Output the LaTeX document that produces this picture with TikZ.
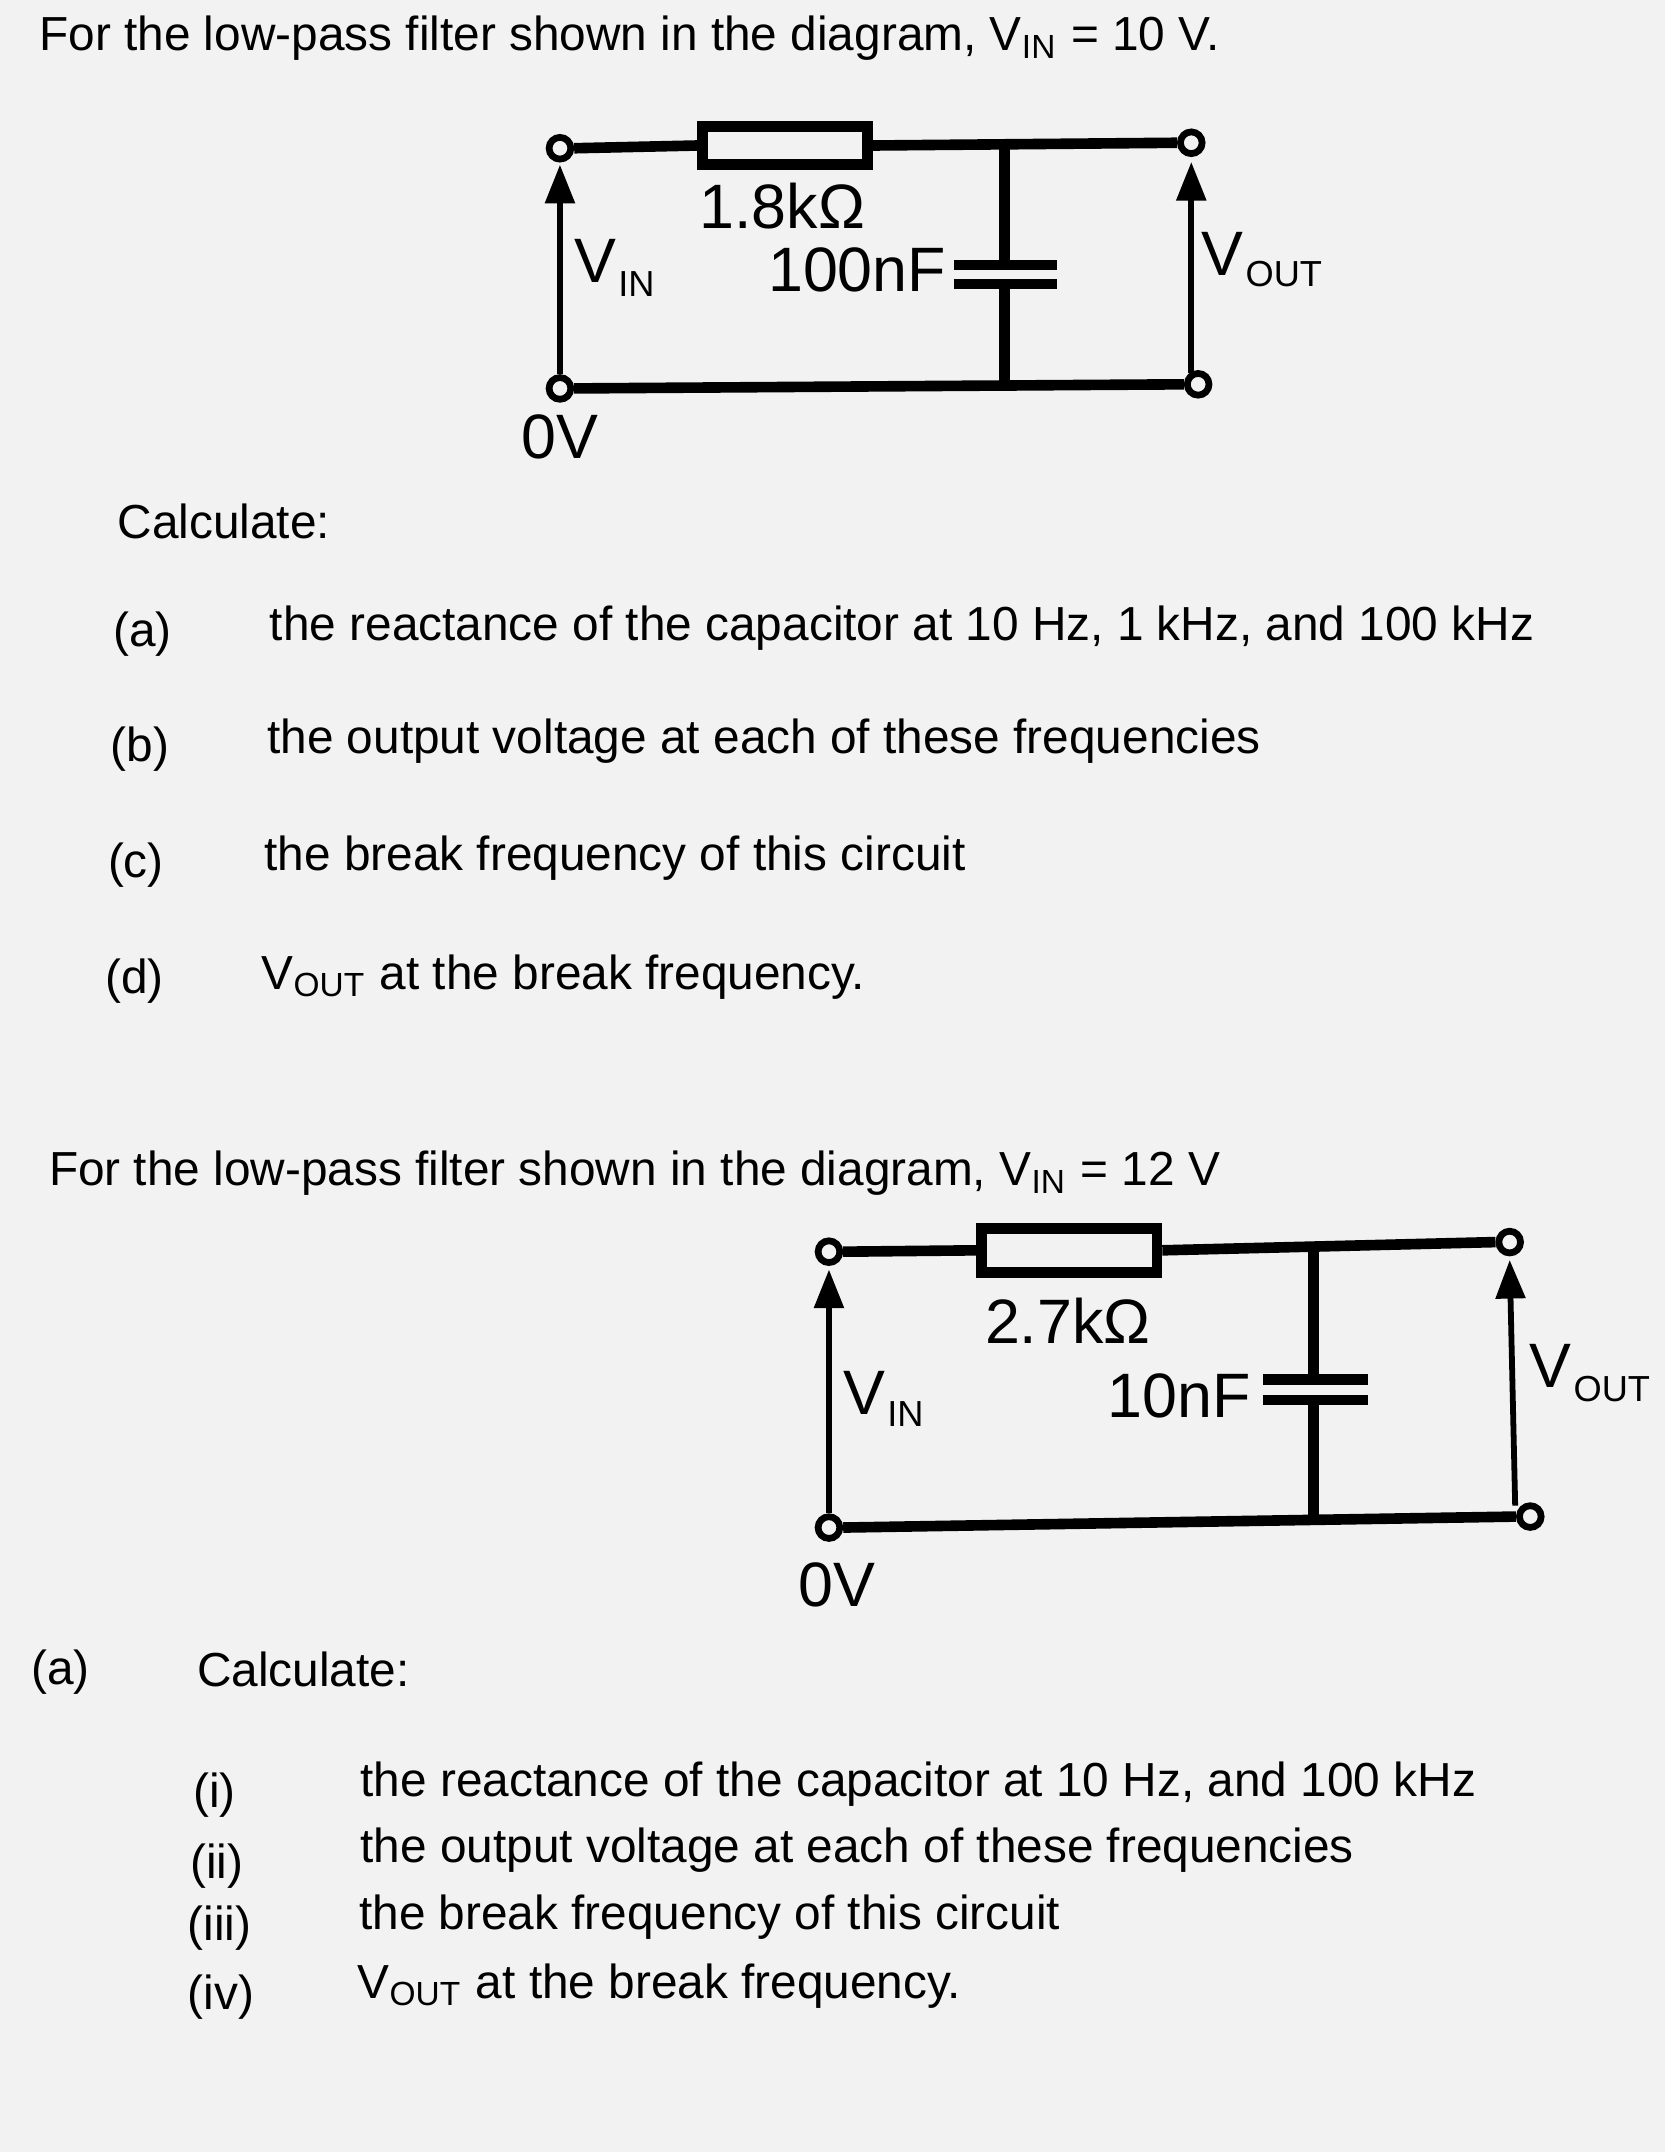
\documentclass[tikz,border=0pt]{standalone}
\usepackage{fontspec}
\setmainfont{Liberation Sans}
\usetikzlibrary{arrows.meta}
\begin{document}
\begin{tikzpicture}[x=0.01cm,y=-0.01cm,
  wire/.style={line width=2.2pt},
  term/.style={circle,draw,line width=1.4pt,fill=gray!10,inner sep=0pt,minimum size=4.5pt},
  body/.style={font=\fontsize{9.9}{11}\selectfont,anchor=west,inner sep=0pt},
  clab/.style={font=\fontsize{13}{15}\selectfont,inner sep=0pt},
  sub/.style={font=\fontsize{7.5}{9}\selectfont,inner sep=0pt,anchor=west},
  varr/.style={line width=1.2pt,-{Triangle[width=6pt,length=8pt]}}]
\fill[gray!10] (0,0) rectangle (1213,1568);
\useasboundingbox (0,0) rectangle (1213,1568);
% text 1
\node[body] (h1) at (28,28) {For the low-pass filter shown in the diagram, V\textsubscript{IN} = 10 V.};
\node[body] (c1) at (85,380) {Calculate:};
\node[body] (la) at (82,462) {(a)}; \node[body] (ta) at (196,458) {the reactance of the capacitor at 10 Hz, 1 kHz, and 100 kHz};
\node[body] (lb) at (80,546) {(b)}; \node[body] (tb) at (194,540) {the output voltage at each of these frequencies};
\node[body] (lc) at (78,630) {(c)}; \node[body] (tc) at (192,625) {the break frequency of this circuit};
\node[body] (ld) at (76,715) {(d)}; \node[body] (td) at (190,712) {V\textsubscript{OUT} at the break frequency.};
% circuit 1
\node[term] (a1) at (408,108) {};
\node[term] (b1) at (868,104) {};
\node[term] (c1g) at (408,283) {};
\node[term] (d1) at (873,280) {};
\node[draw,line width=2.2pt,minimum width=1.2cm,minimum height=0.28cm,inner sep=0pt,fill=gray!10] (r1) at (572,106) {};
\draw[wire] (a1.east) -- (r1.west);
\draw[wire] (r1.east) -- (b1.west);
\draw[wire] (c1g.east) -- (d1.west);
\coordinate (k1t) at (732,104); \coordinate (k1b) at (732,281);
\draw[wire] (k1t) -- (732,193) (732,207) -- (k1b);
\draw[wire] (695,193) -- (770,193) (695,207) -- (770,207);
\draw[varr] (c1g.north) -- (408,120);
\draw[varr] (868,272) -- (868,118);
\node[clab] (l1r) at (570,150) {1.8kΩ};
\node[clab,anchor=east] (l1c) at (690,197) {100nF};
\node[clab,anchor=west] (l1i) at (418,190) {V};
\node[sub] (l1is) at (l1i.east|-0,207) {IN};
\node[clab,anchor=west] (l1o) at (875,185) {V};
\node[sub] (l1os) at (l1o.east|-0,200) {OUT};
\node[clab] (l10) at (408,318) {0V};
% text 2
\node[body] (h2) at (35,855) {For the low-pass filter shown in the diagram, V\textsubscript{IN} = 12 V};
\node[body] (a2) at (22,1218) {(a)};
\node[body] (c2) at (143,1216) {Calculate:};
\node[body] (li) at (140,1308) {(i)}; \node[body] (ti) at (262,1300) {the reactance of the capacitor at 10 Hz, and 100 kHz};
\node[body] (lii) at (138,1360) {(ii)}; \node[body] (tii) at (262,1348) {the output voltage at each of these frequencies};
\node[body] (liii) at (136,1405) {(iii)}; \node[body] (tiii) at (261,1397) {the break frequency of this circuit};
\node[body] (liv) at (136,1455) {(iv)}; \node[body] (tiv) at (260,1447) {V\textsubscript{OUT} at the break frequency.};
% circuit 2
\node[term] (a2t) at (604,912) {};
\node[term] (b2) at (1100,905) {};
\node[term] (c2g) at (604,1113) {};
\node[term] (d2) at (1115,1105) {};
\node[draw,line width=2.2pt,minimum width=1.28cm,minimum height=0.32cm,inner sep=0pt,fill=gray!10] (r2) at (779,911) {};
\draw[wire] (a2t.east) -- (r2.west);
\draw[wire] (r2.east) -- (b2.west);
\draw[wire] (c2g.east) -- (d2.west);
\coordinate (k2t) at (957,907); \coordinate (k2b) at (957,1110);
\draw[wire] (k2t) -- (957,1005) (957,1020) -- (k2b);
\draw[wire] (920,1005) -- (997,1005) (920,1020) -- (997,1020);
\draw[varr] (c2g.north) -- (604,925);
\draw[varr] (1104,1097) -- (1100,918);
\node[clab] (l2r) at (778,962) {2.7kΩ};
\node[clab,anchor=east] (l2c) at (912,1017) {10nF};
\node[clab,anchor=west] (l2i) at (614,1015) {V};
\node[sub] (l2is) at (l2i.east|-0,1030) {IN};
\node[clab,anchor=west] (l2o) at (1114,995) {V};
\node[sub] (l2os) at (l2o.east|-0,1012) {OUT};
\node[clab] (l20) at (610,1155) {0V};
\end{tikzpicture}
\end{document}
